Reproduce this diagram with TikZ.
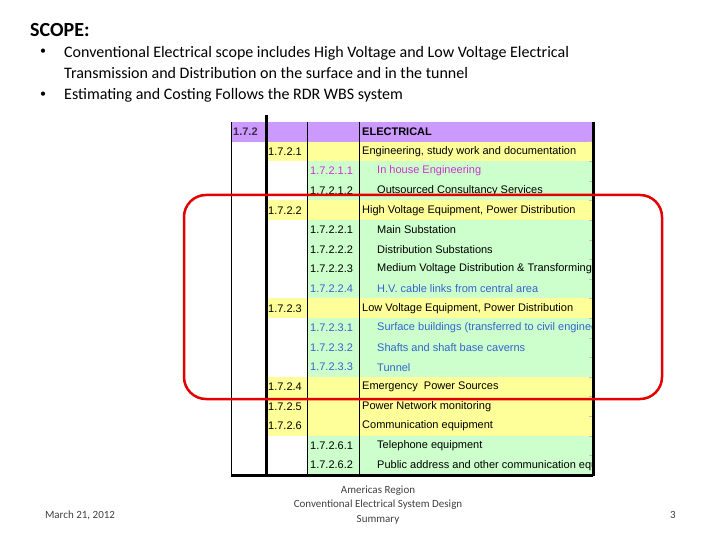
\documentclass[tikz,border=0pt]{standalone}
\usepackage{fontspec}
\setmainfont{Carlito}
\newfontfamily\arialf{Liberation Sans}
\definecolor{hdr}{HTML}{CC99FF}
\definecolor{yel}{HTML}{FFFF99}
\definecolor{grn}{HTML}{CCFFCC}
\definecolor{mag}{HTML}{CC33CC}
\definecolor{blu}{HTML}{3366CC}
\begin{document}
\begin{tikzpicture}[x=1pt,y=-1pt,
  cell/.style={anchor=west,inner sep=0pt,font=\arialf\fontsize{11}{12}\selectfont},
  bul/.style={anchor=west,inner sep=0pt,font=\fontsize{16}{21}\selectfont,align=left},
  foot/.style={inner sep=0pt,font=\fontsize{11}{14.5}\selectfont,text=black!75,align=center}]
\useasboundingbox (0,0) rectangle (720,540);
\node[anchor=west,inner sep=0pt,font=\bfseries\fontsize{20}{24}\selectfont] (t) at (30,30) {SCOPE:};
\node[bul,font=\fontsize{12}{14}\selectfont] (b1) at (40,52) {•};
\node[bul] (b1t) at (64,62.5) {Conventional Electrical scope includes High Voltage and Low Voltage Electrical\\Transmission and Distribution on the surface and in the tunnel};
\node[bul,font=\fontsize{12}{14}\selectfont] (b2) at (40,95) {•};
\node[bul] (b2t) at (64,95) {Estimating and Costing Follows the RDR WBS system};
% table
\def\rh{19.61}
\fill[hdr] (231,122) rectangle (593,141.6);
\foreach \r/\t in {1/y,2/g,3/g,4/y,5/g,6/g,7/g,8/g,9/y,10/g,11/g,12/g,13/y,14/y,15/y,16/g,17/g}{
  \pgfmathsetmacro\ya{122+\r*\rh}\pgfmathsetmacro\yb{122+(\r+1)*\rh}
  \if\t y\relax \fill[yel] (266,\ya) rectangle (593,\yb);
  \else \fill[grn] (307,\ya) rectangle (593,\yb); \fi
}
\foreach \r in {1,...,17}{\pgfmathsetmacro\ya{122+\r*\rh}\draw[black!25,line width=0.3pt] (589,\ya)--(593,\ya);}
\draw[line width=1pt] (307,122)--(307,475) (359,122)--(359,475);
\draw[line width=1pt] (231,122)--(231,475);
\draw[line width=3pt] (266,115)--(266,476) (231,475)--(593,475) (593,122)--(593,476);
\newcommand\rowy[1]{\pgfmathsetmacro\yy{122+(#1+0.5)*\rh}}
\foreach \r/\a/\c [count=\i] in {
 0/1.7.2/ELECTRICAL,
 1/1.7.2.1/{Engineering, study work and documentation},
 4/1.7.2.2/{High Voltage Equipment, Power Distribution},
 9/1.7.2.3/{Low Voltage Equipment, Power Distribution},
 13/1.7.2.4/Emergency~ Power Sources,
 14/1.7.2.5/Power Network monitoring,
 15/1.7.2.6/Communication equipment}{
  \rowy{\r}
  \ifnum\r=0
   \node[cell,font=\arialf\bfseries\fontsize{11}{12}\selectfont,text=black!70!hdr] (n\i) at (233,\yy) {\a};
   \node[cell,font=\arialf\bfseries\fontsize{11}{12}\selectfont] (d\i) at (362,\yy) {\c};
  \else
   \node[cell] (n\i) at (268,\yy) {\a};
   \node[cell] (d\i) at (362,\yy) {\c};
  \fi
}
\foreach \r/\a/\c/\col [count=\i] in {
 2/1.7.2.1.1/In house Engineering/mag,
 3/1.7.2.1.2/Outsourced Consultancy Services/black,
 5/1.7.2.2.1/Main Substation/black,
 6/1.7.2.2.2/Distribution Substations/black,
 7/1.7.2.2.3/Medium Voltage Distribution \& Transforming/black,
 8/1.7.2.2.4/H.V. cable links from central area/blu,
 10/1.7.2.3.1/Surface buildings (transferred to civil engineering)/blu,
 11/1.7.2.3.2/Shafts and shaft base caverns/blu,
 12/1.7.2.3.3/Tunnel/blu,
 16/1.7.2.6.1/Telephone equipment/black,
 17/1.7.2.6.2/Public address and other communication equipment/black}{
  \rowy{\r}
  \node[cell,text=\col] (m\i) at (310,\yy) {\a};
  \begin{scope}\clip (359,100) rectangle (591,500);
  \node[cell,text=\col] (e\i) at (377,\yy) {\c};\end{scope}
}
\draw[red!90!black,line width=2.5pt,rounded corners=22pt] (184,195) rectangle (662,399);
\node[foot] (f1) at (80,515) {March 21, 2012};
\node[foot] (f2) at (378,505) {Americas Region\\Conventional Electrical System Design\\Summary};
\node[foot] (f3) at (673,515) {3};
\end{tikzpicture}
\end{document}
